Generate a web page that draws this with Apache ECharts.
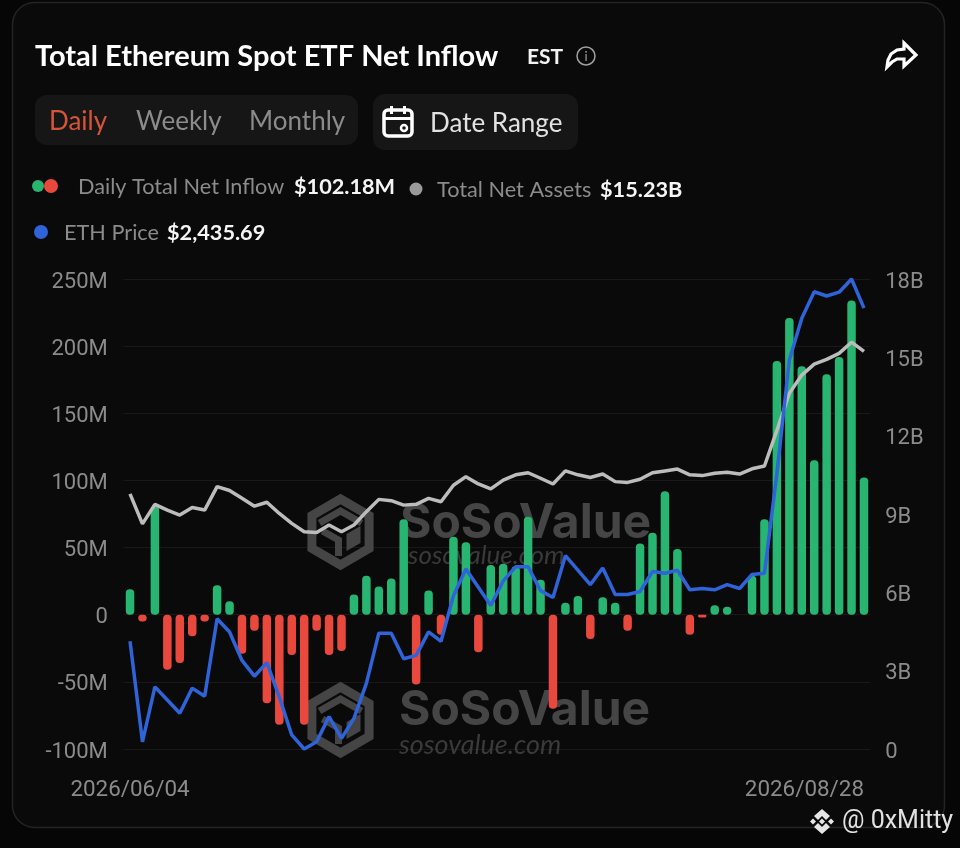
<!DOCTYPE html>
<html>
<head>
<meta charset="utf-8">
<script src="https://cdn.jsdelivr.net/npm/echarts@6/dist/echarts.min.js"></script>
<style>html,body{margin:0;padding:0;background:#060606}#c{width:960px;height:848px}</style>
</head>
<body>
<div id="c"></div>
<script>
var dates = ["2026/06/04","2026/06/05","2026/06/08","2026/06/09","2026/06/10","2026/06/11","2026/06/12","2026/06/15","2026/06/16","2026/06/17","2026/06/18","2026/06/22","2026/06/23","2026/06/24","2026/06/25","2026/06/26","2026/06/29","2026/06/30","2026/07/01","2026/07/02","2026/07/06","2026/07/07","2026/07/08","2026/07/09","2026/07/10","2026/07/13","2026/07/14","2026/07/15","2026/07/16","2026/07/17","2026/07/20","2026/07/21","2026/07/22","2026/07/23","2026/07/24","2026/07/27","2026/07/28","2026/07/29","2026/07/30","2026/07/31","2026/08/03","2026/08/04","2026/08/05","2026/08/06","2026/08/07","2026/08/10","2026/08/11","2026/08/12","2026/08/13","2026/08/14","2026/08/17","2026/08/18","2026/08/19","2026/08/20","2026/08/21","2026/08/24","2026/08/25","2026/08/26","2026/08/27","2026/08/28"];
var netInflowM = [19,-5,81,-41,-36,-16,-5,22,10,-29,-12,-66,-82,-30,-82,-12,-30,-27,15,29,21,27,71,-52,18,-15,58,54,-28,37,38,36,73,26,-70,9,14,-18,13,9,-12,53,61,92,49,-15,-2,7,6,0,29,71,189,221,185,115,179,192,234,102.18];
var netAssetsB = [9.77,8.62,9.37,9.15,8.96,9.25,9.15,10.05,9.9,9.6,9.3,9.45,9.02,8.64,8.32,8.29,8.58,8.32,8.58,9.09,9.56,9.51,9.34,9.37,9.6,9.47,10.1,10.43,10.15,9.96,10.3,10.5,10.58,10.37,10.15,10.65,10.5,10.4,10.53,10.24,10.21,10.33,10.58,10.65,10.72,10.5,10.47,10.56,10.6,10.53,10.73,10.84,12.2,13.62,14.32,14.74,14.92,15.15,15.58,15.23];
var ethPrice = [1653,1417,1546,1515,1484,1543,1524,1706,1675,1608,1571,1603,1522,1433,1400,1417,1476,1425,1472,1554,1672,1672,1612,1620,1675,1653,1760,1823,1780,1737,1795,1828,1828,1772,1756,1854,1820,1786,1825,1763,1763,1770,1817,1813,1820,1774,1777,1774,1786,1777,1810,1813,2047,2314,2412,2474,2464,2473,2504,2435.69];
var inflowTicks = {min:-100,max:250,step:50};
var assetTicks = {min:0,max:18,step:3};

var GREEN='#27b571', RED='#e9493d', BLUE='#2f63d9', GREY='#bcbcbc', MUTED='#8b8b8b', SANS='Lato', AX='Roboto';

function T(x,y,text,size,color,weight,align,font,extra){
  var s={x:x,y:y,text:text,fontSize:size,fill:color,fontWeight:weight||'normal',fontFamily:font||SANS,textAlign:align||'left',textVerticalAlign:'middle'};
  if(extra) for(var k in extra) s[k]=extra[k];
  return {type:'text',silent:true,z:5,style:s};
}
function dot(x,y,r,c){return {type:'circle',silent:true,z:5,shape:{cx:x,cy:y,r:r},style:{fill:c}};}
function box(x,y,w,h,r,fill,stroke){return {type:'rect',silent:true,z:0,shape:{x:x,y:y,width:w,height:h,r:r},style:{fill:fill,stroke:stroke||null,lineWidth:stroke?1.5:0}};}
function logo(cx,cy){
  var c='#454545', R=33, H=[];
  for(var i=0;i<6;i++){var a=Math.PI/3*i-Math.PI/2;H.push([cx+R*Math.cos(a),cy+R*Math.sin(a)]);}
  return [
    {type:'polygon',silent:true,z:1,shape:{points:H},style:{fill:'none',stroke:c,lineWidth:9}},
    {type:'polyline',silent:true,z:1,shape:{points:[[cx-21,cy-9],[cx,cy-21],[cx+21,cy-9]]},style:{fill:'none',stroke:c,lineWidth:7}},
    {type:'polyline',silent:true,z:1,shape:{points:[[cx-18,cy-1],[cx-2,cy+8],[cx-2,cy+24]]},style:{fill:'none',stroke:c,lineWidth:7}},
    {type:'polygon',silent:true,z:1,shape:{points:[[cx+6,cy+2],[cx+20,cy-6],[cx+20,cy+11],[cx+6,cy+19]]},style:{fill:c}}
  ];
}
function mark(lx,ly,tx,ty,ux,uy,us){
  return logo(lx,ly).concat([
    T(tx,ty,'SoSoValue',48,'#454545','bold','left','Inter'),
    T(ux,uy,'sosovalue.com',us,'#3a3a3a','normal','left','Lato',{fontStyle:'italic'})
  ]).map(function(e){e.z=1;return e;});
}
var graphics=[
  box(12.5,2.5,932,825,22,'#0a0a0a','#242424'),
  box(35,95,323,50,12,'#161616'),
  box(373,94,205,56,12,'#161616'),
  T(35,57,'Total Ethereum Spot ETF Net Inflow',29,'#ffffff','bold'),
  T(527,57,'EST',21,'#f2f2f2','bold'),
  {type:'circle',silent:true,z:5,shape:{cx:586,cy:56,r:9},style:{fill:'none',stroke:'#a0a0a0',lineWidth:1.5}},
  T(586,56.5,'i',13,'#a0a0a0','normal','center'),
  T(49,122,'Daily',26,'#d4553a'),
  T(136,122,'Weekly',26,MUTED),
  T(249,122,'Monthly',26,MUTED),
  T(430,124,'Date Range',26,'#e2e2e2'),
  {type:'rect',silent:true,z:5,shape:{x:384,y:110,width:28,height:26,r:4},style:{fill:'none',stroke:'#fff',lineWidth:3.5}},
  {type:'rect',silent:true,z:5,shape:{x:384,y:117,width:28,height:3},style:{fill:'#fff'}},
  {type:'rect',silent:true,z:5,shape:{x:390,y:106,width:3,height:8},style:{fill:'#fff'}},
  {type:'rect',silent:true,z:5,shape:{x:403,y:106,width:3,height:8},style:{fill:'#fff'}},
  {type:'circle',silent:true,z:5,shape:{cx:404,cy:128,r:3},style:{fill:'none',stroke:'#fff',lineWidth:2.5}},
  {type:'polygon',silent:true,z:5,shape:{points:[[904,43],[916,55],[904,66],[904,59],[897,59],[892,62],[887,67],[888,60],[891,54],[897,50],[904,49]]},style:{fill:'none',stroke:'#fff',lineWidth:3.2}},
  dot(38,186,6,GREEN),dot(51,186,7,RED),
  T(78,187,'Daily Total Net Inflow',21.7,MUTED),
  T(294,187,'$102.18M',21.7,'#f5f5f5','bold'),
  dot(416,189,6.5,'#9a9a9a'),
  T(437,190,'Total Net Assets',21.7,MUTED),
  T(600,190,'$15.23B',21.7,'#f5f5f5','bold'),
  dot(41,232,7,BLUE),
  T(64,233,'ETH Price',21.7,MUTED),
  T(167,233,'$2,435.69',21.7,'#f5f5f5','bold'),
  {type:'polygon',silent:true,z:5,shape:{points:[[822,809],[830,816],[826,820],[822,816],[818,820],[814,816]]},style:{fill:'#e6e6e6'}},
  {type:'polygon',silent:true,z:5,shape:{points:[[822,834],[830,827],[826,823],[822,827],[818,823],[814,827]]},style:{fill:'#e6e6e6'}},
  {type:'polygon',silent:true,z:5,shape:{points:[[810,821.5],[813,818.5],[816,821.5],[813,824.5]]},style:{fill:'#e6e6e6'}},
  {type:'polygon',silent:true,z:5,shape:{points:[[828,821.5],[831,818.5],[834,821.5],[831,824.5]]},style:{fill:'#e6e6e6'}},
  {type:'polygon',silent:true,z:5,shape:{points:[[819,821.5],[822,818.5],[825,821.5],[822,824.5]]},style:{fill:'#e6e6e6'}},
  T(842,822,'@ 0xMitty',25,'#e2e2e2','normal','left',AX)
].concat(mark(340.5,532,400,524,408,556,26)).concat(mark(340.5,720,399,711,399,745,27));

var chart=echarts.init(document.getElementById('c'),null,{renderer:'canvas'});
chart.setOption({
  backgroundColor:'#060606',
  animation:false,
  graphic:{elements:graphics},
  grid:{left:123.8,right:89.8,top:279,height:470,containLabel:false},
  legend:{show:false},
  xAxis:{type:'category',data:dates,boundaryGap:true,
    axisLine:{onZero:false,show:false},axisTick:{show:false},splitLine:{show:false},
    axisLabel:{color:MUTED,fontFamily:AX,fontSize:22.4,margin:30,showMinLabel:true,showMaxLabel:true,alignMaxLabel:'right',
      interval:function(i){return i===0||i===dates.length-1;}}},
  yAxis:[
    {type:'value',min:inflowTicks.min,max:inflowTicks.max,interval:inflowTicks.step,
      axisLine:{show:false},axisTick:{show:false},
      splitLine:{lineStyle:{color:'#191919',width:1}},
      axisLabel:{color:MUTED,fontFamily:AX,fontSize:22,margin:16,verticalAlign:'top',lineHeight:6,formatter:function(v){return v===0?'0':v+'M';}}},
    {type:'value',min:assetTicks.min,max:assetTicks.max,interval:assetTicks.step,position:'right',
      axisLine:{show:false},axisTick:{show:false},splitLine:{show:false},
      axisLabel:{color:MUTED,fontFamily:AX,fontSize:22,margin:15,verticalAlign:'top',lineHeight:6,formatter:function(v){return v===0?'0':v+'B';}}},
    {type:'value',min:1400,max:2504,show:false,position:'right',splitLine:{show:false}}
  ],
  series:[
    {name:'Daily Total Net Inflow',type:'bar',data:netInflowM,yAxisIndex:0,barWidth:8.5,z:3,
      itemStyle:{borderRadius:4,color:function(p){return p.value>=0?GREEN:RED;}}},
    {name:'Total Net Assets',type:'line',data:netAssetsB,yAxisIndex:1,showSymbol:false,z:4,
      lineStyle:{color:GREY,width:3.5},itemStyle:{color:GREY}},
    {name:'ETH Price',type:'line',data:ethPrice,yAxisIndex:2,showSymbol:false,z:5,
      lineStyle:{color:BLUE,width:3.5},itemStyle:{color:BLUE}}
  ]
});
</script>
</body>
</html>
